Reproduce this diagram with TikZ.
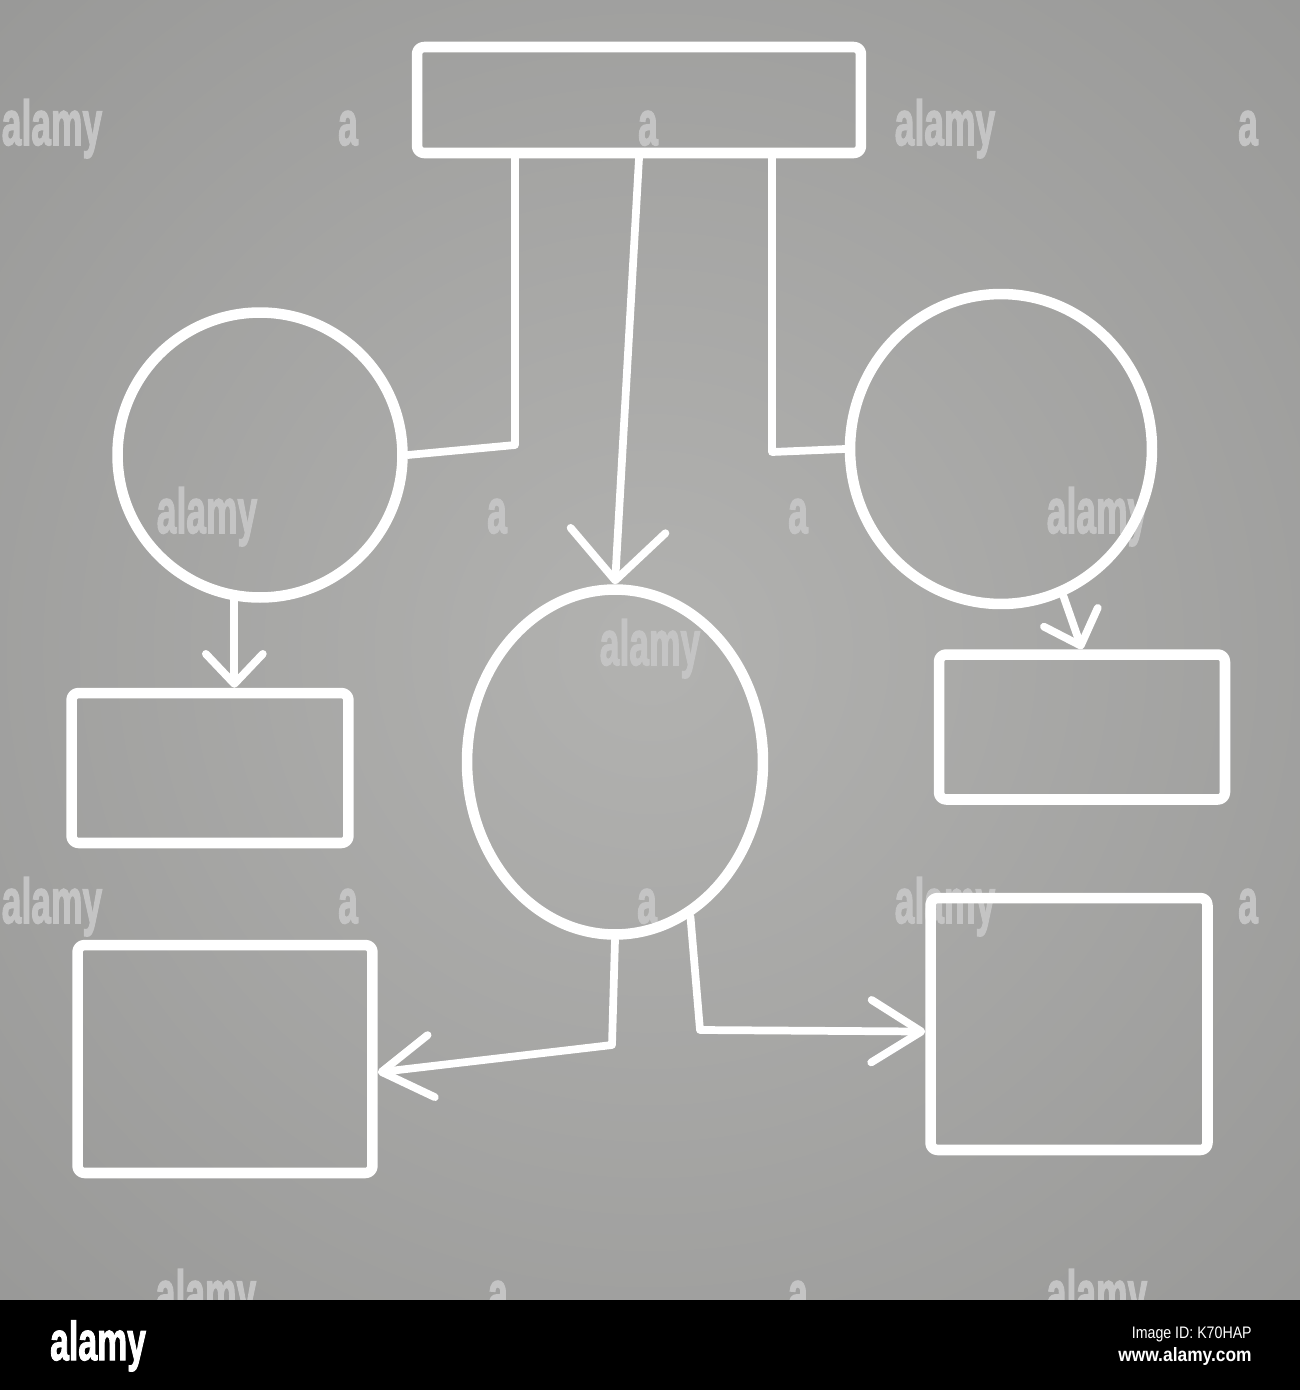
\documentclass[tikz,border=0pt]{standalone}
\usepackage{fontspec}
\setsansfont{Liberation Sans}
\newfontfamily\heavysans[FakeBold=2.5]{Liberation Sans Bold}
\usetikzlibrary{shapes.geometric,arrows.meta,calc}

\definecolor{concreteIn}{RGB}{178,178,176}
\definecolor{concreteMid}{RGB}{150,150,149}
\definecolor{concreteEdge}{RGB}{112,112,112}
\definecolor{concreteOut}{RGB}{72,72,72}
\definecolor{stamp}{RGB}{196,196,196}
\pgfdeclareradialshading{concrete}{\pgfpoint{0bp}{0bp}}{color(0bp)=(concreteIn); color(28bp)=(concreteMid); color(51bp)=(concreteEdge); color(72bp)=(concreteOut)}

\tikzset{
  chalk/.style={draw=white,line width=6pt,line cap=round,line join=round},
  box/.style={chalk,rectangle,rounded corners=4pt,inner sep=0pt},
  blob/.style={chalk,ellipse,inner sep=0pt},
  link/.style={draw=white,line width=4.4pt,line cap=round,line join=round},
  bigtip/.style={link,-{Straight Barb[round,length=1cm 0,width=1.9cm 0]}},
  midtip/.style={link,-{Straight Barb[round,length=1cm 0,width=1.25cm 0]}},
  smalltip/.style={link,-{Straight Barb[round,length=0.6cm 0,width=1.14cm 0]}},
  wmark/.style={stamp,font=\heavysans\fontsize{36}{36}\selectfont,xscale=0.56,transform shape,inner sep=0pt,anchor=base},
  logo/.style={white,font=\heavysans\fontsize{31}{31}\selectfont,xscale=0.62,transform shape,inner sep=0pt},
  idtext/.style={white,font=\sffamily\fontsize{9.5}{9.5}\selectfont,xscale=0.85,transform shape,inner sep=0pt},
  urltext/.style={white,font=\sffamily\bfseries\fontsize{11}{11}\selectfont,xscale=0.9,transform shape,inner sep=0pt},
}

\begin{document}
\begin{tikzpicture}[x=0.02cm,y=-0.02cm]
\useasboundingbox (0,0) rectangle (1300,1390);
% concrete wall
\begin{scope}
\clip (0,0) rectangle (1300,1300);
\shade[shading=concrete] (-270,-260) rectangle (1570,1560);
\end{scope}

% watermarks
\node[wmark] (w1) at (52,145) {alamy};
\node[wmark] (w2) at (348,145) {a};
\node[wmark] (w3) at (648,145) {a};
\node[wmark] (w4) at (945,145) {alamy};
\node[wmark] (w5) at (1248,145) {a};
\node[wmark] (w6) at (207,533) {alamy};
\node[wmark] (w7) at (497,533) {a};
\node[wmark] (w8) at (798,533) {a};
\node[wmark] (w9) at (1097,533) {alamy};
\node[wmark] (w10) at (650,665) {alamy};
\node[wmark] (w11) at (52,923) {alamy};
\node[wmark] (w12) at (348,923) {a};
\node[wmark] (w13) at (647,923) {a};
\node[wmark] (w14) at (945,923) {alamy};
\node[wmark] (w15) at (1248,923) {a};
\node[wmark] (w16) at (206,1315) {alamy};
\node[wmark] (w17) at (498,1315) {a};
\node[wmark] (w18) at (798,1315) {a};
\node[wmark] (w19) at (1097,1315) {alamy};

% shapes
\node[box,minimum width=8.88cm,minimum height=2.12cm] (head) at (639,100) {};
\node[blob,minimum width=5.7cm,minimum height=5.7cm] (leftc) at (260,455) {};
\node[blob,minimum width=6.04cm,minimum height=6.2cm] (rightc) at (1001,449) {};
\node[blob,minimum width=5.92cm,minimum height=6.9cm] (midc) at (615,762) {};
\node[box,minimum width=5.54cm,minimum height=3.0cm] (leftb) at (210,768) {};
\node[box,minimum width=5.72cm,minimum height=2.9cm] (rightb) at (1082,727) {};
\node[box,minimum width=5.9cm,minimum height=4.56cm] (lowl) at (225,1059) {};
\node[box,minimum width=5.54cm,minimum height=5.04cm] (lowr) at (1069,1024) {};

\coordinate (kneeL) at (515,445);
\coordinate (kneeR) at (772,452);
\coordinate (kneeBL) at (612,1045);
\coordinate (kneeBR) at (700,1030);

% connectors
\draw[link] (head.south -| kneeL) -- (kneeL) -- (leftc.east);
\draw[bigtip] (head.south) -- (midc.north);
\draw[link] (head.south -| kneeR) -- (kneeR) -- (rightc.west);
\draw[smalltip] (leftc.-100) -- (leftc.-100 |- leftb.north);
\draw[smalltip] (rightc.-67) -- (rightb.north);
\draw[midtip] (midc.south) -- (kneeBL) -- (lowl.-5);
\draw[midtip] (midc.-64) -- (kneeBR) -- (lowr.183);

% footer bar
\fill[black] (0,1300) rectangle (1300,1390);
\node[logo,anchor=base west] (brand) at (50,1360) {alamy};
\node[idtext,anchor=base east] (imgid) at (1252,1338) {Image ID: K70HAP};
\node[urltext,anchor=base east] (site) at (1252,1361) {www.alamy.com};
\end{tikzpicture}
\end{document}
